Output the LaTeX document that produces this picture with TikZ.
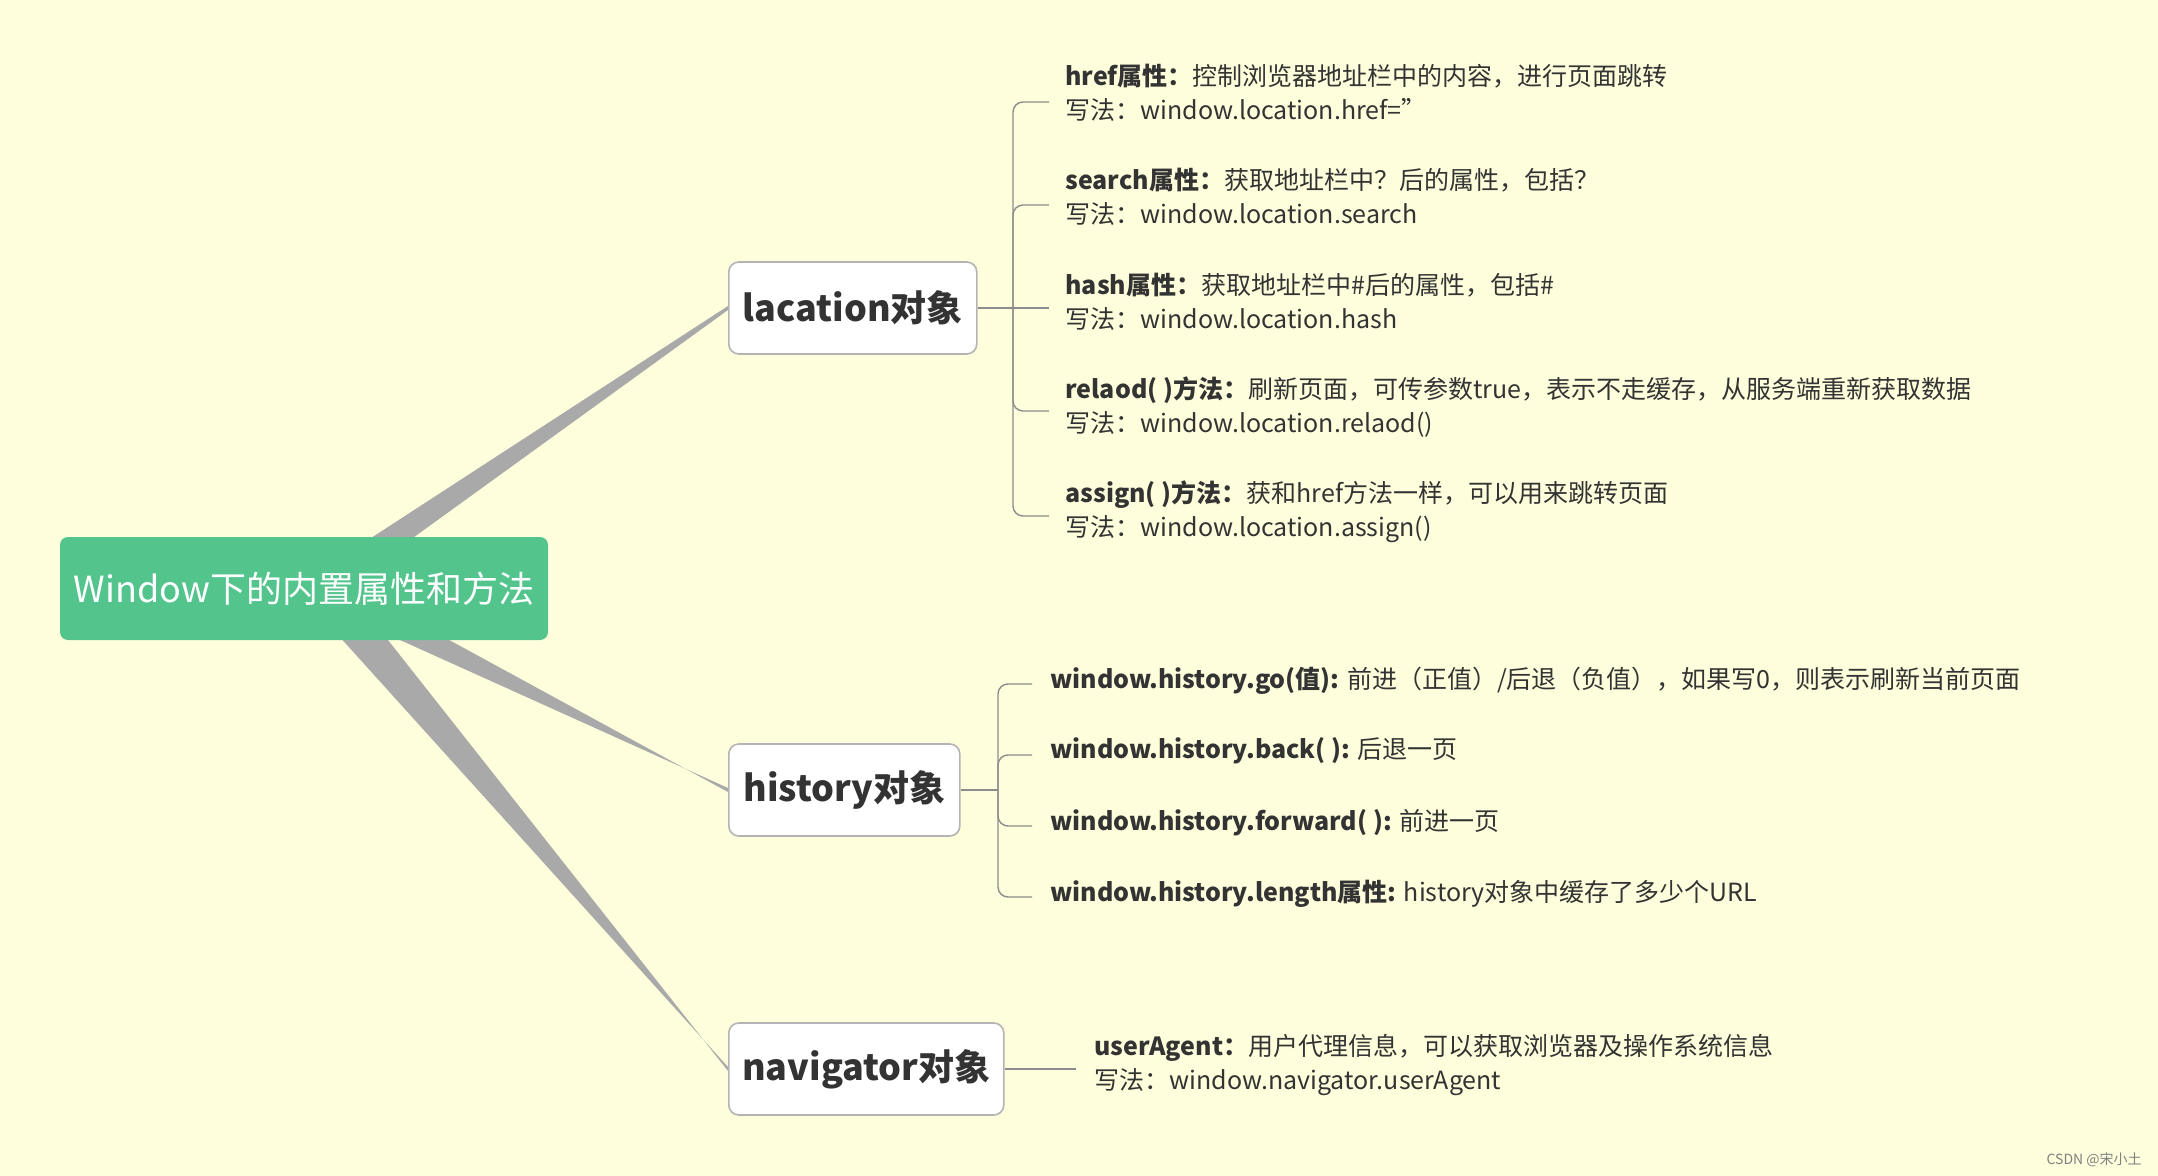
\documentclass[tikz,border=0pt]{standalone}
\usepackage{fontspec}
\usetikzlibrary{calc}
\setmainfont{Noto Sans CJK SC}
\definecolor{bg}{HTML}{FEFEDC}
\definecolor{rootc}{HTML}{52C48C}
\definecolor{conn}{HTML}{A9A9A9}
\definecolor{txt}{HTML}{333333}
\definecolor{brd}{HTML}{B4B4B4}
\definecolor{brk}{HTML}{8C8C8C}
\tikzset{
  root/.style={fill=rootc,rounded corners=4pt,minimum width=244pt,minimum height=51.5pt,text=white,font=\fontsize{18}{22}\selectfont,inner sep=0pt},
  sub/.style={draw=brd,line width=0.8pt,fill=white,rounded corners=5pt,minimum height=46pt,text=txt,font=\bfseries\fontsize{18}{22}\selectfont,inner sep=0pt,anchor=west},
  item/.style={anchor=west,align=left,text=txt,font=\fontsize{12.5}{17}\selectfont,inner sep=0pt},
  br/.style={draw=brk,line width=0.7pt,rounded corners=5pt},
  tap/.style={fill=conn}
}
\begin{document}
\begin{tikzpicture}[x=0.5pt,y=-0.5pt]
\fill[bg] (0,0) rectangle (2158,1176);
\useasboundingbox (0,0) rectangle (2158,1176);
% tapered connectors
\coordinate (lt) at (728,308);
\coordinate (ht) at (728,790);
\coordinate (nt) at (728,1069);
\fill[tap] (368,540) -- (410,540) -- ($(lt)+(0,2)$) -- ($(lt)+(0,-2)$) -- cycle;
\fill[tap] (389,635) -- (440,635) -- ($(ht)+(0,2)$) -- ($(ht)+(0,-2)$) -- cycle;
\fill[tap] (338,635) -- (384,635) -- ($(nt)+(0,2)$) -- ($(nt)+(0,-2)$) -- cycle;
\node[root] (root) at (304,588.5) {Window下的内置属性和方法};
\node[sub,minimum width=124pt] (lac) at (728,308) {\hspace*{0pt}\hfill lacation对象\hfill\hspace*{0pt}};
\node[sub,minimum width=115.5pt] (his) at (728,790) {\hspace*{0pt}\hfill history对象\hfill\hspace*{0pt}};
\node[sub,minimum width=137.5pt] (nav) at (728,1069) {\hspace*{0pt}\hfill navigator对象\hfill\hspace*{0pt}};
% location items
\node[item] (l1) at (1065,93) {\textbf{href属性：}控制浏览器地址栏中的内容，进行页面跳转\\写法：window.location.href="};
\node[item] (l2) at (1065,197) {\textbf{search属性：}获取地址栏中？后的属性，包括？\\写法：window.location.search};
\node[item] (l3) at (1065,302) {\textbf{hash属性：}获取地址栏中\#后的属性，包括\#\\写法：window.location.hash};
\node[item] (l4) at (1065,407) {\textbf{relaod( )方法：}刷新页面，可传参数true，表示不走缓存，从服务端重新获取数据\\写法：window.location.relaod()};
\node[item] (l5) at (1065,512) {\textbf{assign( )方法：}获和href方法一样，可以用来跳转页面\\写法：window.location.assign()};
\coordinate (lm) at (1013,308);
\draw[br] (lac.east) -- (lm);
\draw[br] (lm) |- (1049,102);
\draw[br] (lm) |- (1049,205);
\draw[br] (lm) -- (1049,308);
\draw[br] (lm) |- (1049,411);
\draw[br] (lm) |- (1049,516);
% history items
\node[item] (h1) at (1050,681) {\textbf{window.history.go(值):} 前进（正值）/后退（负值），如果写0，则表示刷新当前页面};
\node[item] (h2) at (1050,751) {\textbf{window.history.back( ):} 后退一页};
\node[item] (h3) at (1050,823) {\textbf{window.history.forward( ):} 前进一页};
\node[item] (h4) at (1050,894) {\textbf{window.history.length属性:} history对象中缓存了多少个URL};
\coordinate (hm) at (998,790);
\draw[br] (his.east) -- (hm);
\draw[br] (hm) |- (1032,684);
\draw[br] (hm) |- (1032,755);
\draw[br] (hm) |- (1032,826);
\draw[br] (hm) |- (1032,897);
% navigator
\node[item] (n1) at (1094,1065) {\textbf{userAgent：}用户代理信息，可以获取浏览器及操作系统信息\\写法：window.navigator.userAgent};
\coordinate (ne) at (1076,1069);
\draw[br] (nav.east) -- (ne);
\node[anchor=east,text=gray,font=\fontsize{7}{8}\selectfont,inner sep=0pt] (wm) at (2142,1160) {CSDN @宋小土};
\end{tikzpicture}
\end{document}
